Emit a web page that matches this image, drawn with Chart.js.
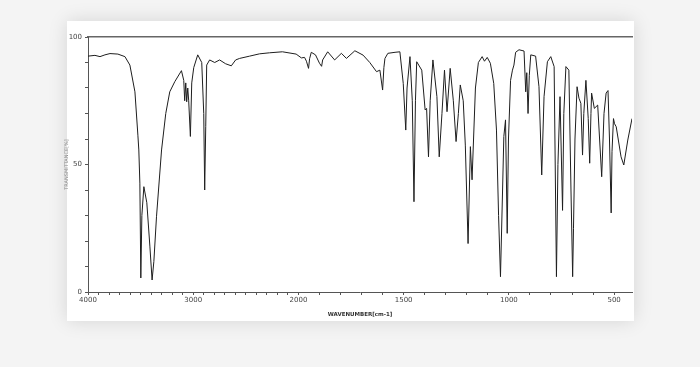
<!DOCTYPE html>
<html>
<head>
<meta charset="utf-8">
<script src="https://cdn.jsdelivr.net/npm/chart.js@4"></script>
<style>
  html, body { margin:0; padding:0; background:#f4f4f4; }
  #wrap { position:relative; width:700px; height:367px; overflow:hidden; }
  #card { position:absolute; left:67px; top:21px; width:567px; height:300px; background:#fff; box-shadow:0 0 18px rgba(0,0,0,0.13); }
  #c { position:absolute; left:0; top:0; }
</style>
</head>
<body>
<div id="wrap">
  <div id="card"></div>
  <canvas id="c" width="700" height="367"></canvas>
</div>
<script>
// wavenumber (cm-1) and transmittance (%)
const wavenumbers = [
  4000,3934,3886,3839,3791,3716,3649,3602,3554,3526,3517,3507,3498,3488,3469,3441,3412,3391,3374,3349,
  3301,3261,3223,3175,3112,3090,3081,3071,3062,3052,3043,3027,3014,2995,2957,2919,2900,2891,2881,2872,
  2844,2796,2749,2692,2638,2597,2559,2464,2370,2275,2152,2022,
  1986,1971,1962,1952,1947,1939,1919,1900,1890,1885,1861,1828,1796,1772,1732,1693,1661,1629,1613,1600,
  1594,1589,1575,1541,1518,1502,1490,1484,1470,1459,1451,1444,1438,1414,1398,1391,1382,1374,1361,1342,
  1331,1318,1306,1294,1279,1264,1251,1240,1231,1217,1207,1194,1183,1175,1159,1145,1127,1116,1103,1088,
  1072,1059,1049,1040,1030,1024,1016,1008,1002,992,983,976,968,952,928,920,915,909,903,896,
  873,857,844,833,817,801,785,774,767,757,745,739,729,715,705,697,693,686,676,667,
  658,650,644,634,623,616,610,607,594,578,569,559,548,538,529,522,514,510,503,498,
  490,467,454,435,415
]
const transmittance = [
  92.5,92.8,92.3,93.0,93.5,93.3,92.3,89,78.5,61.5,55.7,42.7,5.5,30,41.3,35,18,4.7,12,29.5,
  55.7,70,78.5,82.5,86.8,83,75,82,74.6,80,75,61,82,88,93,90,70,40,65,89,
  91,90,91,89.5,88.7,91,91.6,92.5,93.4,93.8,94.2,93.3,
  91.8,92,90.5,87.7,91.5,94,93,89.7,88.5,91,94.2,91,93.6,91.6,94.6,92.9,90,86.4,87,79.2,
  88,91.6,93.6,94,94.2,81.8,63.5,80,92.3,75,35.4,75,90.3,87,71.4,72,53,75,91,76.6,
  53,70,87,70.7,87.7,75,59,70,81.2,75,57.6,19,57,44,80,90,92.3,90.5,92,89.7,
  81.8,63.5,30,6,40,61,67.5,23,60,83,87,89,94,95,94.5,78.5,86,70,85,93,
  92.5,80.5,45.9,76.6,90.3,92.3,88.4,6,50,76.6,32,70,88.4,87,40,6,25,60,80.5,76,
  74,53.7,70,83,68,50.5,70,78,72,73.3,60,45.2,70,78,79,60,31,55,68,66,
  64.8,53,49.8,59.6,68
]
const xLabels = [4000, 3000, 2000, 1500, 1000, 500]
const yLabels = [0, 50, 100]

// the x scale is doubled below 2000 cm-1
function pos(w){ return w >= 2000 ? (4000 - w) / 2 : 1000 + (2000 - w) }
function wn(p){ return p <= 1000 ? 4000 - 2 * p : 3000 - p }

const points = wavenumbers.map((w, i) => ({ x: pos(w), y: transmittance[i] }))
const xTickWn = []
for (let w = 4000; w >= 500; w -= 100) xTickWn.push(w)

const font = { family: 'DejaVu Sans', size: 7 }

new Chart(document.getElementById('c'), {
  type: 'line',
  data: { datasets: [{ data: points, borderColor: '#1e1e1e', borderWidth: 1, pointRadius: 0, tension: 0 }] },
  options: {
    responsive: false, animation: false,
    layout: { padding: { left: 64, right: 68, top: 37, bottom: 45 } },
    plugins: { legend: { display: false }, tooltip: { enabled: false } },
    scales: {
      x: {
        type: 'linear', min: 0, max: pos(415),
        afterBuildTicks: (s) => { s.ticks = xTickWn.map(w => ({ value: pos(w) })) },
        afterFit: (s) => { s.height = 30 },
        ticks: { autoSkip: false, maxRotation: 0, padding: 1, color: '#444', font,
          callback: (v) => { const w = Math.round(wn(v)); return xLabels.includes(w) ? String(w) : '' } },
        grid: { drawOnChartArea: false, drawTicks: true, tickLength: 3, color: '#555' },
        border: { display: true, color: '#555', width: 1 },
        title: { display: true, text: 'WAVENUMBER[cm-1]', color: '#333', font: { family: 'DejaVu Sans', size: 5.5, weight: 'bold' }, padding: { top: 0 } }
      },
      xTop: {
        type: 'linear', position: 'top', min: 0, max: pos(415),
        afterFit: (s) => { s.height = 0 },
        ticks: { display: false },
        grid: { drawOnChartArea: false, drawTicks: false },
        border: { display: true, color: '#666', width: 1.5 }
      },
      y: {
        min: 0, max: 100,
        afterBuildTicks: (s) => { const t = []; for (let v = 0; v <= 100; v += 10) t.push({ value: v }); s.ticks = t },
        afterFit: (s) => { s.width = 24 },
        ticks: { autoSkip: false, padding: 3, color: '#444', font,
          callback: (v) => yLabels.includes(v) ? String(v) : '' },
        grid: { drawOnChartArea: false, drawTicks: true, tickLength: 3, color: '#555' },
        border: { display: true, color: '#555', width: 1 },
        title: { display: true, text: 'TRANSMITTANCE[%]', color: '#888', font: { family: 'DejaVu Sans', size: 5 }, padding: 0 }
      }
    }
  }
})
</script>
</body>
</html>
